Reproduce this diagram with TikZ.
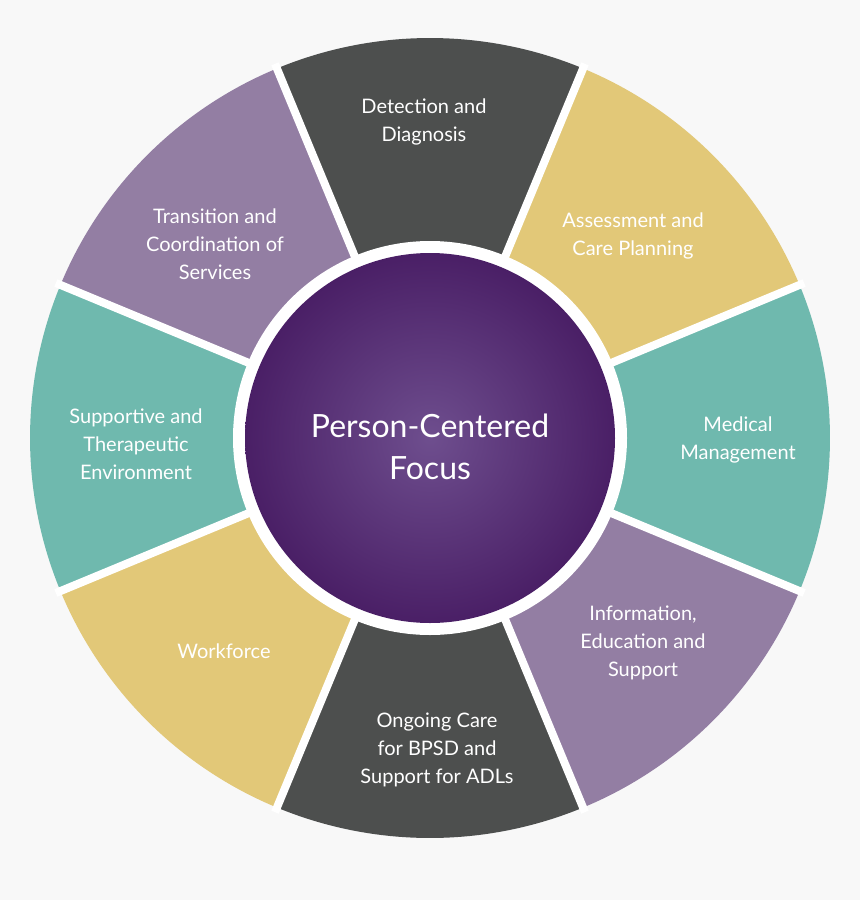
\documentclass[tikz,border=0pt]{standalone}
\usepackage{fontspec}
\setmainfont{Lato}
\begin{document}
\begin{tikzpicture}[x=1pt,y=1pt]
\definecolor{bg}{HTML}{F8F8F8}
\definecolor{dgray}{HTML}{4D4F4E}
\definecolor{yel}{HTML}{E2C878}
\definecolor{teal}{HTML}{6FB9AE}
\definecolor{purp}{HTML}{937EA3}
\definecolor{cin}{HTML}{6E4E8E}
\definecolor{cout}{HTML}{4A1F66}
\tikzset{lab/.style={text=white,align=center,font=\fontsize{20}{28}\selectfont}}
\fill[bg] (0,0) rectangle (860,-900);
\useasboundingbox (0,0) rectangle (860,-900);
\coordinate (c) at (430,-438);
\foreach \a/\col in {90/dgray,45/yel,0/teal,-45/purp,-90/dgray,-135/yel,180/teal,135/purp}{
  \fill[\col] (c) -- ++(\a-22.5:400) arc[start angle=\a-22.5,end angle=\a+22.5,radius=400] -- cycle;
}
\foreach \a in {22.5,67.5,...,337.5}{
  \draw[white,line width=8] (c) -- ++(\a:405);
}
\fill[white] (c) circle[radius=197];
\shade[inner color=cin,outer color=cout] (c) circle[radius=185];
\node[lab,font=\fontsize{32}{42}\selectfont] (center) at (430,-447) {Person-Centered\\Focus};
\node[lab] (det) at (424,-122) {Detection and\\Diagnosis};
\node[lab] (ass) at (633,-236) {Assessment and\\Care Planning};
\node[lab] (med) at (738,-440) {Medical\\Management};
\node[lab] (inf) at (643,-643) {Information,\\Education and\\Support};
\node[lab] (ong) at (437,-750) {Ongoing Care\\for BPSD and\\Support for ADLs};
\node[lab] (work) at (224,-651) {Workforce};
\node[lab] (sup) at (136,-444) {Supportive and\\Therapeutic\\Environment};
\node[lab] (tra) at (215,-244) {Transition and\\Coordination of\\Services};
\end{tikzpicture}
\end{document}
